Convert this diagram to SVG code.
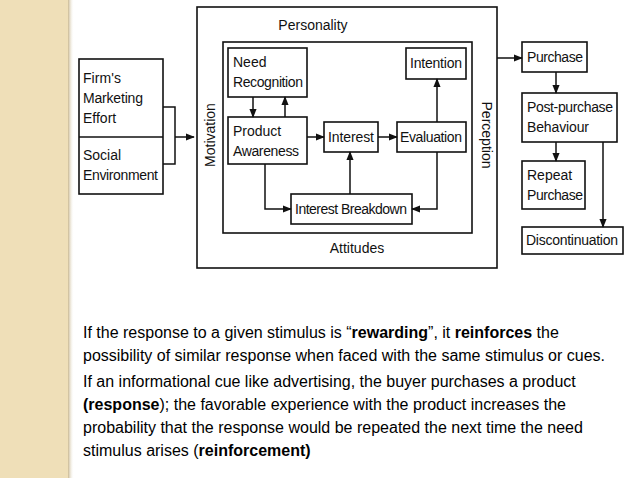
<svg xmlns="http://www.w3.org/2000/svg" width="638" height="478" viewBox="0 0 638 478">
<defs>
<marker id="ah" viewBox="0 0 10 10" refX="9" refY="5" markerWidth="6" markerHeight="6" orient="auto"><path d="M0,1 L10,5 L0,9 z" fill="#111"/></marker>
<linearGradient id="sh" x1="0" x2="1"><stop offset="0" stop-color="#c9b891"/><stop offset="1" stop-color="#fff" stop-opacity="0"/></linearGradient>
</defs>
<style>
.b{fill:#fff;stroke:#111;stroke-width:1.6}
.t{font-family:"Liberation Sans",Arial,sans-serif;font-size:14px;fill:#111}
.c{fill:none;stroke:#111;stroke-width:1.5}
.a{fill:none;stroke:#111;stroke-width:1.5;marker-end:url(#ah)}
.p{font-family:"Liberation Sans",Arial,sans-serif;font-size:16px;fill:#000}
</style>
<rect width="638" height="478" fill="#fff"/>
<rect width="68" height="478" fill="#efdfb8"/>
<rect x="68" width="6" height="478" fill="url(#sh)"/>
<g id="outer"><rect class="b" x="197" y="7" width="300" height="261"/><text class="t" x="313" y="30" text-anchor="middle">Personality</text><text class="t" x="357" y="253" text-anchor="middle">Attitudes</text>
<text class="t" transform="translate(215,135) rotate(-90)" text-anchor="middle">Motivation</text>
<text class="t" transform="translate(482,135) rotate(90)" text-anchor="middle">Perception</text></g>
<g id="inner"><rect class="b" x="223" y="42" width="249" height="191"/></g>
<g id="firms"><rect class="b" x="79" y="59" width="84" height="135"/><line class="c" x1="79" y1="137" x2="163" y2="137"/>
<text class="t" x="83" y="83" textLength="38">Firm's</text><text class="t" x="83" y="103" textLength="60">Marketing</text><text class="t" x="83" y="123">Effort</text>
<text class="t" x="83" y="160">Social</text><text class="t" x="83" y="180" textLength="75">Environment</text></g>
<g id="need"><rect class="b" x="228" y="48" width="79" height="49"/><text class="t" x="233" y="67">Need</text><text class="t" x="233" y="87" textLength="70">Recognition</text></g>
<g id="aware"><rect class="b" x="228" y="117" width="79" height="47"/><text class="t" x="233" y="136">Product</text><text class="t" x="233" y="156" textLength="66">Awareness</text></g>
<g id="interest"><rect class="b" x="324" y="122" width="54" height="30"/><text class="t" x="351" y="142" text-anchor="middle" textLength="46">Interest</text></g>
<g id="eval"><rect class="b" x="397" y="122" width="69" height="30"/><text class="t" x="431" y="142" text-anchor="middle" textLength="62">Evaluation</text></g>
<g id="intention"><rect class="b" x="406" y="48" width="60" height="31"/><text class="t" x="436" y="68" text-anchor="middle" textLength="52">Intention</text></g>
<g id="breakdown"><rect class="b" x="291" y="194" width="121" height="30"/><text class="t" x="351" y="214" text-anchor="middle" textLength="112">Interest Breakdown</text></g>
<g id="purchase"><rect class="b" x="522" y="42" width="65" height="30"/><text class="t" x="527" y="62" textLength="56">Purchase</text></g>
<g id="post"><rect class="b" x="522" y="93" width="95" height="49"/><text class="t" x="527" y="112" textLength="86">Post-purchase</text><text class="t" x="527" y="132" textLength="62">Behaviour</text></g>
<g id="repeat"><rect class="b" x="522" y="161" width="63" height="48"/><text class="t" x="527" y="180">Repeat</text><text class="t" x="527" y="200" textLength="56">Purchase</text></g>
<g id="discont"><rect class="b" x="522" y="227" width="101" height="27"/><text class="t" x="572" y="245" text-anchor="middle" textLength="92">Discontinuation</text></g>
<g id="connectors">
<polyline class="c" points="163,107 175,107 175,164 163,164"/>
<line class="a" x1="175" y1="137" x2="194" y2="137"/>
<line class="a" x1="253" y1="97" x2="253" y2="117"/>
<line class="a" x1="285" y1="117" x2="285" y2="97"/>
<line class="a" x1="307" y1="137" x2="324" y2="137"/>
<line class="a" x1="378" y1="137" x2="397" y2="137"/>
<line class="a" x1="437" y1="122" x2="437" y2="79"/>
<polyline class="a" points="265,164 265,209 291,209"/>
<line class="a" x1="350" y1="194" x2="350" y2="152"/>
<polyline class="a" points="437,152 437,209 412,209"/>
<line class="a" x1="497" y1="58" x2="522" y2="58"/>
<line class="a" x1="556" y1="72" x2="556" y2="93"/>
<line class="a" x1="556" y1="142" x2="556" y2="161"/>
<line class="a" x1="603" y1="142" x2="603" y2="227"/>
</g>
<g id="text">
<text class="p" x="83" y="338">If the response to a given stimulus is “<tspan font-weight="bold">rewarding</tspan>”, it <tspan font-weight="bold">reinforces</tspan> the</text>
<text class="p" x="83" y="361">possibility of similar response when faced with the same stimulus or cues.</text>
<text class="p" x="83" y="387">If an informational cue like advertising, the buyer purchases a product</text>
<text class="p" x="83" y="410"><tspan font-weight="bold">(response</tspan>); the favorable experience with the product increases the</text>
<text class="p" x="83" y="433">probability that the response would be repeated the next time the need</text>
<text class="p" x="83" y="456">stimulus arises (<tspan font-weight="bold">reinforcement)</tspan></text>
</g>
</svg>
